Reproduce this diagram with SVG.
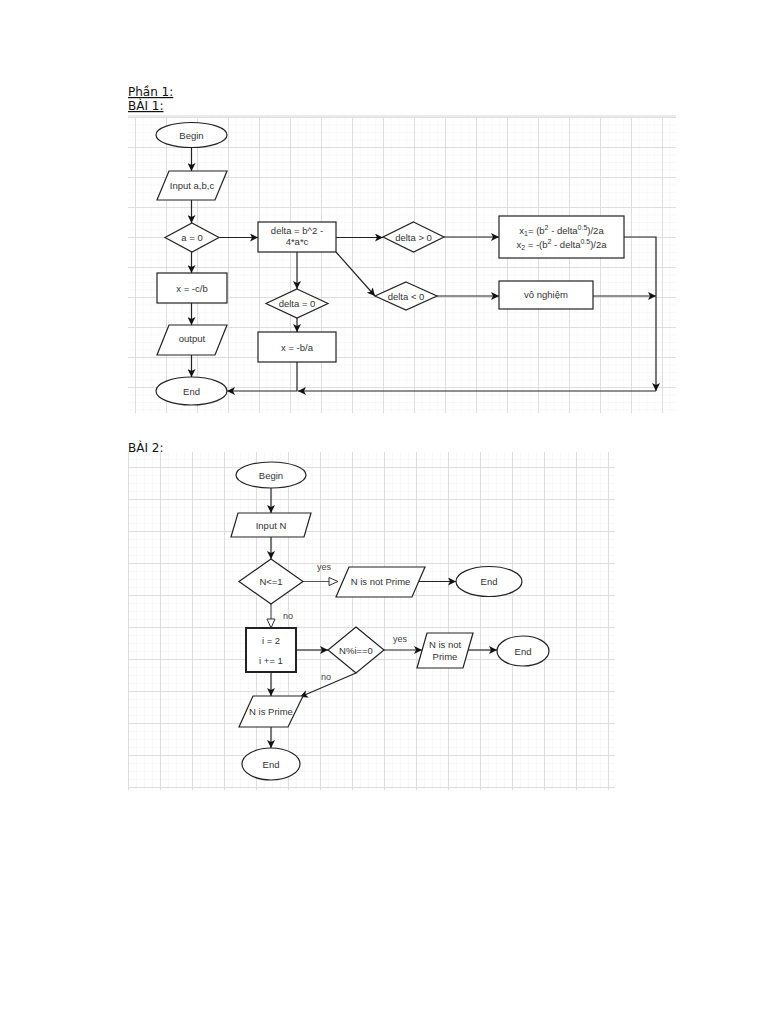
<svg xmlns="http://www.w3.org/2000/svg" width="768" height="1024" viewBox="0 0 768 1024">
<defs>
<pattern id="g1min" patternUnits="userSpaceOnUse" x="135" y="117" width="7.75" height="7.5">
<path d="M0,0 V7.5 M0,0 H7.75" fill="none" stroke="#f1f1f1" stroke-width="1"/>
</pattern>
<pattern id="g1maj" patternUnits="userSpaceOnUse" x="135" y="117" width="31" height="30">
<path d="M0.5,0 V30 M0,0.5 H31" fill="none" stroke="#dedede" stroke-width="1"/>
</pattern>
<pattern id="g2min" patternUnits="userSpaceOnUse" x="128" y="435" width="8" height="8">
<path d="M0,0 V8 M0,0 H8" fill="none" stroke="#f1f1f1" stroke-width="1"/>
</pattern>
<pattern id="g2maj" patternUnits="userSpaceOnUse" x="128" y="435" width="32" height="32">
<path d="M0.5,0 V32 M0,0.5 H32" fill="none" stroke="#dedede" stroke-width="1"/>
</pattern>
<marker id="a" markerUnits="userSpaceOnUse" markerWidth="10" markerHeight="8" refX="8" refY="4" orient="auto">
<path d="M0,0 L8,4 L0,8 L2,4 Z" fill="#111"/>
</marker>
<marker id="o" markerUnits="userSpaceOnUse" markerWidth="12" markerHeight="10" refX="10" refY="5" orient="auto">
<path d="M1,1 L10,5 L1,9 Z" fill="#fff" stroke="#333" stroke-width="1"/>
</marker>
</defs>
<style>
.h{font-family:"DejaVu Sans",sans-serif;font-size:12px;fill:#111}
.s{fill:#fff;stroke:#222;stroke-width:1.2}
.t{font-family:"Liberation Sans",Arial,sans-serif;font-size:9.5px;fill:#333;text-anchor:middle}
.l{font-family:"Liberation Sans",Arial,sans-serif;font-size:9px;fill:#444}
.c{fill:none;stroke:#222;stroke-width:1.2}
.ca{fill:none;stroke:#222;stroke-width:1.2;marker-end:url(#a)}
.co{fill:none;stroke:#555;stroke-width:1.2;marker-end:url(#o)}
</style>
<rect width="768" height="1024" fill="#fff"/>

<text class="h" x="128" y="96" text-decoration="underline">Phần 1:</text>
<text class="h" x="128" y="110" text-decoration="underline">BÀI 1:</text>
<text class="h" x="128" y="452">BÀI 2:</text>

<!-- grid backgrounds -->
<rect x="128" y="115" width="548" height="2" fill="#ececec"/>
<rect x="128" y="117" width="548" height="296" fill="url(#g1min)"/>
<rect x="128" y="117" width="548" height="296" fill="url(#g1maj)"/>
<rect x="128" y="452" width="487" height="338" fill="url(#g2min)"/>
<rect x="128" y="452" width="487" height="338" fill="url(#g2maj)"/>

<!-- connectors diagram 1 -->
<g id="connectors1">
<path class="ca" d="M191.5,147.5 V171"/>
<path class="ca" d="M191.5,200 V223"/>
<path class="ca" d="M219,237.5 H258"/>
<path class="ca" d="M191.5,252 V273"/>
<path class="ca" d="M191.5,303 V325"/>
<path class="ca" d="M191.5,355 V377"/>
<path class="ca" d="M297,252 V289"/>
<path class="ca" d="M297,318 V332"/>
<path class="ca" d="M336,237.5 H383"/>
<path class="ca" d="M444,237 H499"/>
<path class="ca" d="M336,252 L375,296"/>
<path class="ca" d="M437,296 H499"/>
<path class="ca" d="M593,296 H656"/>
<path class="ca" d="M624,237 H656 V391"/>
<path class="ca" d="M656,391 H298"/>
<path class="ca" d="M297,362 V391 H227"/>
</g>

<!-- nodes diagram 1 -->
<g id="begin1"><ellipse class="s" cx="191.5" cy="135" rx="35.5" ry="12.5"/><text class="t" x="191.5" y="138.5">Begin</text></g>
<g id="input1"><polygon class="s" points="169,171 227,171 215,200 157,200"/><text class="t" x="192" y="189">Input a,b,c</text></g>
<g id="dec-a0"><polygon class="s" points="192,223 219,237.5 192,252 165,237.5"/><text class="t" x="192" y="241">a = 0</text></g>
<g id="delta"><rect class="s" x="258" y="222" width="78" height="30"/><text class="t" x="297" y="234">delta = b^2 -</text><text class="t" x="297" y="245">4*a*c</text></g>
<g id="xcb"><rect class="s" x="157" y="273" width="70" height="30"/><text class="t" x="192" y="291.5">x = -c/b</text></g>
<g id="output1"><polygon class="s" points="169,325 227,325 215,355 157,355"/><text class="t" x="192" y="342">output</text></g>
<g id="end1"><ellipse class="s" cx="191.5" cy="391" rx="35.5" ry="14"/><text class="t" x="191.5" y="394.5">End</text></g>
<g id="dec-d0"><polygon class="s" points="297,289 328,303.5 297,318 266,303.5"/><text class="t" x="297" y="307">delta = 0</text></g>
<g id="xba"><rect class="s" x="258" y="332" width="78" height="30"/><text class="t" x="297" y="350.5">x = -b/a</text></g>
<g id="dec-dpos"><polygon class="s" points="413.5,222 444,237 413.5,252 383,237"/><text class="t" x="413.5" y="240.5">delta &gt; 0</text></g>
<g id="roots"><rect class="s" x="499" y="216" width="125" height="42"/>
<text class="t" x="561.5" y="234">x<tspan font-size="7" dy="2">1</tspan><tspan dy="-2">= (b</tspan><tspan font-size="7" dy="-4">2</tspan><tspan dy="4"> - delta</tspan><tspan font-size="7" dy="-4">0.5</tspan><tspan dy="4">)/2a</tspan></text>
<text class="t" x="561.5" y="248">x<tspan font-size="7" dy="2">2</tspan><tspan dy="-2"> = -(b</tspan><tspan font-size="7" dy="-4">2</tspan><tspan dy="4"> - delta</tspan><tspan font-size="7" dy="-4">0.5</tspan><tspan dy="4">)/2a</tspan></text>
</g>
<g id="dec-dneg"><polygon class="s" points="406,282 437,296 406,310 375,296"/><text class="t" x="406" y="299.5">delta &lt; 0</text></g>
<g id="vonghiem"><rect class="s" x="499" y="281" width="94" height="28"/><text class="t" x="546" y="298">vô nghiệm</text></g>

<!-- connectors diagram 2 -->
<g id="connectors2">
<path class="ca" d="M271,488 V513"/>
<path class="ca" d="M271,537 V559"/>
<path class="co" d="M303,581.5 H338"/>
<path class="ca" d="M419,581.5 H456"/>
<path class="co" d="M271,604 V628"/>
<path class="ca" d="M296,650 H328"/>
<path class="ca" d="M384,650 H422"/>
<path class="ca" d="M467,650 H497"/>
<path class="ca" d="M356,673 L300,697"/>
<path class="ca" d="M271,672 V696"/>
<path class="ca" d="M271,727 V748"/>
<text class="l" x="317" y="570">yes</text>
<text class="l" x="283" y="619">no</text>
<text class="l" x="393" y="642">yes</text>
<text class="l" x="321" y="680">no</text>
</g>

<!-- nodes diagram 2 -->
<g id="begin2"><ellipse class="s" cx="271" cy="475" rx="35" ry="13"/><text class="t" x="271" y="478.5">Begin</text></g>
<g id="inputN"><polygon class="s" points="238,513 311,513 304,537 231,537"/><text class="t" x="271" y="528.5">Input N</text></g>
<g id="dec-n1"><polygon class="s" points="271,559 303,581.5 271,604 239,581.5"/><text class="t" x="271" y="585">N&lt;=1</text></g>
<g id="notprime1"><polygon class="s" points="349,567 425,567 412,597 336,597"/><text class="t" x="380.5" y="585">N is not Prime</text></g>
<g id="end2a"><ellipse class="s" cx="489" cy="581.5" rx="33" ry="15"/><text class="t" x="489" y="585">End</text></g>
<g id="iloop"><rect x="246" y="628" width="50" height="44" fill="#fff" stroke="#222" stroke-width="2"/><text class="t" x="271" y="644">i = 2</text><text class="t" x="271" y="664">i += 1</text></g>
<g id="dec-mod"><polygon class="s" points="356,627 384,650 356,673 328,650"/><text class="t" x="356" y="653.5">N%i==0</text></g>
<g id="notprime2"><polygon class="s" points="427,633 473,633 463,668 417,668"/><text class="t" x="445" y="648">N is not</text><text class="t" x="445" y="659.5">Prime</text></g>
<g id="end2b"><ellipse class="s" cx="523" cy="651" rx="26" ry="15"/><text class="t" x="523" y="654.5">End</text></g>
<g id="isprime"><polygon class="s" points="253,696 303,696 288,727 239,727"/><text class="t" x="271" y="715">N is Prime</text></g>
<g id="end2c"><ellipse class="s" cx="271" cy="764" rx="29" ry="16"/><text class="t" x="271" y="767.5">End</text></g>
</svg>
